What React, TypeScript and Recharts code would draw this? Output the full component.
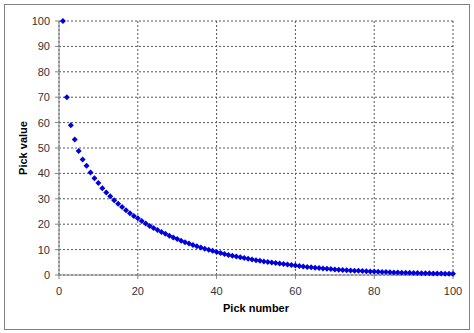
import { CartesianGrid, Scatter, ScatterChart, XAxis, YAxis } from "recharts";

const pickNumbers: number[] = Array.from({ length: 100 }, (_, i) => i + 1);

const pickValues: number[] = [
  100, 70, 59, 53.3, 48.8, 45.5, 43, 40.4, 38.1, 36.2,
  34.2, 32.5, 31, 29.4, 28.1, 26.8, 25.5, 24.3, 23.2, 22.3,
  21.3, 20.3, 19.3, 18.5, 17.7, 16.9, 16.2, 15.5, 14.8, 14.2,
  13.5, 12.9, 12.4, 11.8, 11.3, 10.8, 10.3, 9.9, 9.5, 9.1,
  8.7, 8.3, 7.9, 7.6, 7.3, 7.0, 6.7, 6.4, 6.1, 5.8,
  5.6, 5.3, 5.1, 4.9, 4.7, 4.5, 4.3, 4.1, 3.9, 3.7,
  3.52, 3.34, 3.17, 3.01, 2.86, 2.72, 2.58, 2.45, 2.33, 2.21,
  2.1, 2.0, 1.9, 1.8, 1.71, 1.63, 1.55, 1.47, 1.4, 1.33,
  1.26, 1.2, 1.14, 1.08, 1.03, 0.98, 0.93, 0.88, 0.84, 0.8,
  0.76, 0.72, 0.68, 0.65, 0.62, 0.59, 0.56, 0.53, 0.5, 0.48,
];

const xTicks = [0, 20, 40, 60, 80, 100];
const yTicks = [0, 10, 20, 30, 40, 50, 60, 70, 80, 90, 100];

const data = pickNumbers.map((n, i) => ({ pick: n, value: pickValues[i] }));

const font = "Arial, 'Liberation Sans', sans-serif";
const tickStyle = { fontSize: 11, fill: "#333", fontFamily: font };

function Diamond(props: any) {
  const { cx, cy } = props;
  const r = 3;
  return (
    <polygon
      points={`${cx},${cy - r} ${cx + r},${cy} ${cx},${cy + r} ${cx - r},${cy}`}
      fill="#0000dd"
    />
  );
}

export default function App() {
  return (
    <div style={{ position: "absolute", left: 0, top: 0, width: 474, height: 333, background: "#fff" }}>
      <div
        style={{
          position: "absolute",
          left: 4,
          top: 4,
          width: 466,
          height: 326,
          border: "1px solid #808080",
          boxSizing: "border-box",
        }}
      />
      <div style={{ position: "absolute", left: 0, top: 0 }}>
        <ScatterChart width={474} height={333} margin={{ top: 21, right: 21, left: 0, bottom: 0 }}>
          <CartesianGrid stroke="#555" strokeDasharray="2 2" />
          <XAxis
            type="number"
            dataKey="pick"
            domain={[0, 100]}
            ticks={xTicks}
            height={58}
            tick={tickStyle}
            tickSize={4}
            tickMargin={8}
            axisLine={{ stroke: "#808080" }}
            tickLine={{ stroke: "#808080" }}
            label={{
              content: (p: any) => {
                const vb = p.viewBox;
                return (
                  <text
                    x={vb.x + vb.width / 2}
                    y={312}
                    textAnchor="middle"
                    fontFamily={font}
                    fontWeight="bold"
                    fontSize={11}
                    fill="#000"
                  >
                    Pick number
                  </text>
                );
              },
            }}
          />
          <YAxis
            type="number"
            dataKey="value"
            domain={[0, 100]}
            ticks={yTicks}
            width={59}
            tick={tickStyle}
            tickSize={4}
            tickMargin={5}
            axisLine={{ stroke: "#808080" }}
            tickLine={{ stroke: "#808080" }}
            label={{
              content: (p: any) => {
                const vb = p.viewBox;
                const cy = vb.y + vb.height / 2;
                return (
                  <text
                    x={27}
                    y={cy}
                    textAnchor="middle"
                    transform={`rotate(-90, 27, ${cy})`}
                    fontFamily={font}
                    fontWeight="bold"
                    fontSize={11}
                    fill="#000"
                  >
                    Pick value
                  </text>
                );
              },
            }}
          />
          <Scatter data={data} shape={Diamond} isAnimationActive={false} />
        </ScatterChart>
      </div>
    </div>
  );
}
